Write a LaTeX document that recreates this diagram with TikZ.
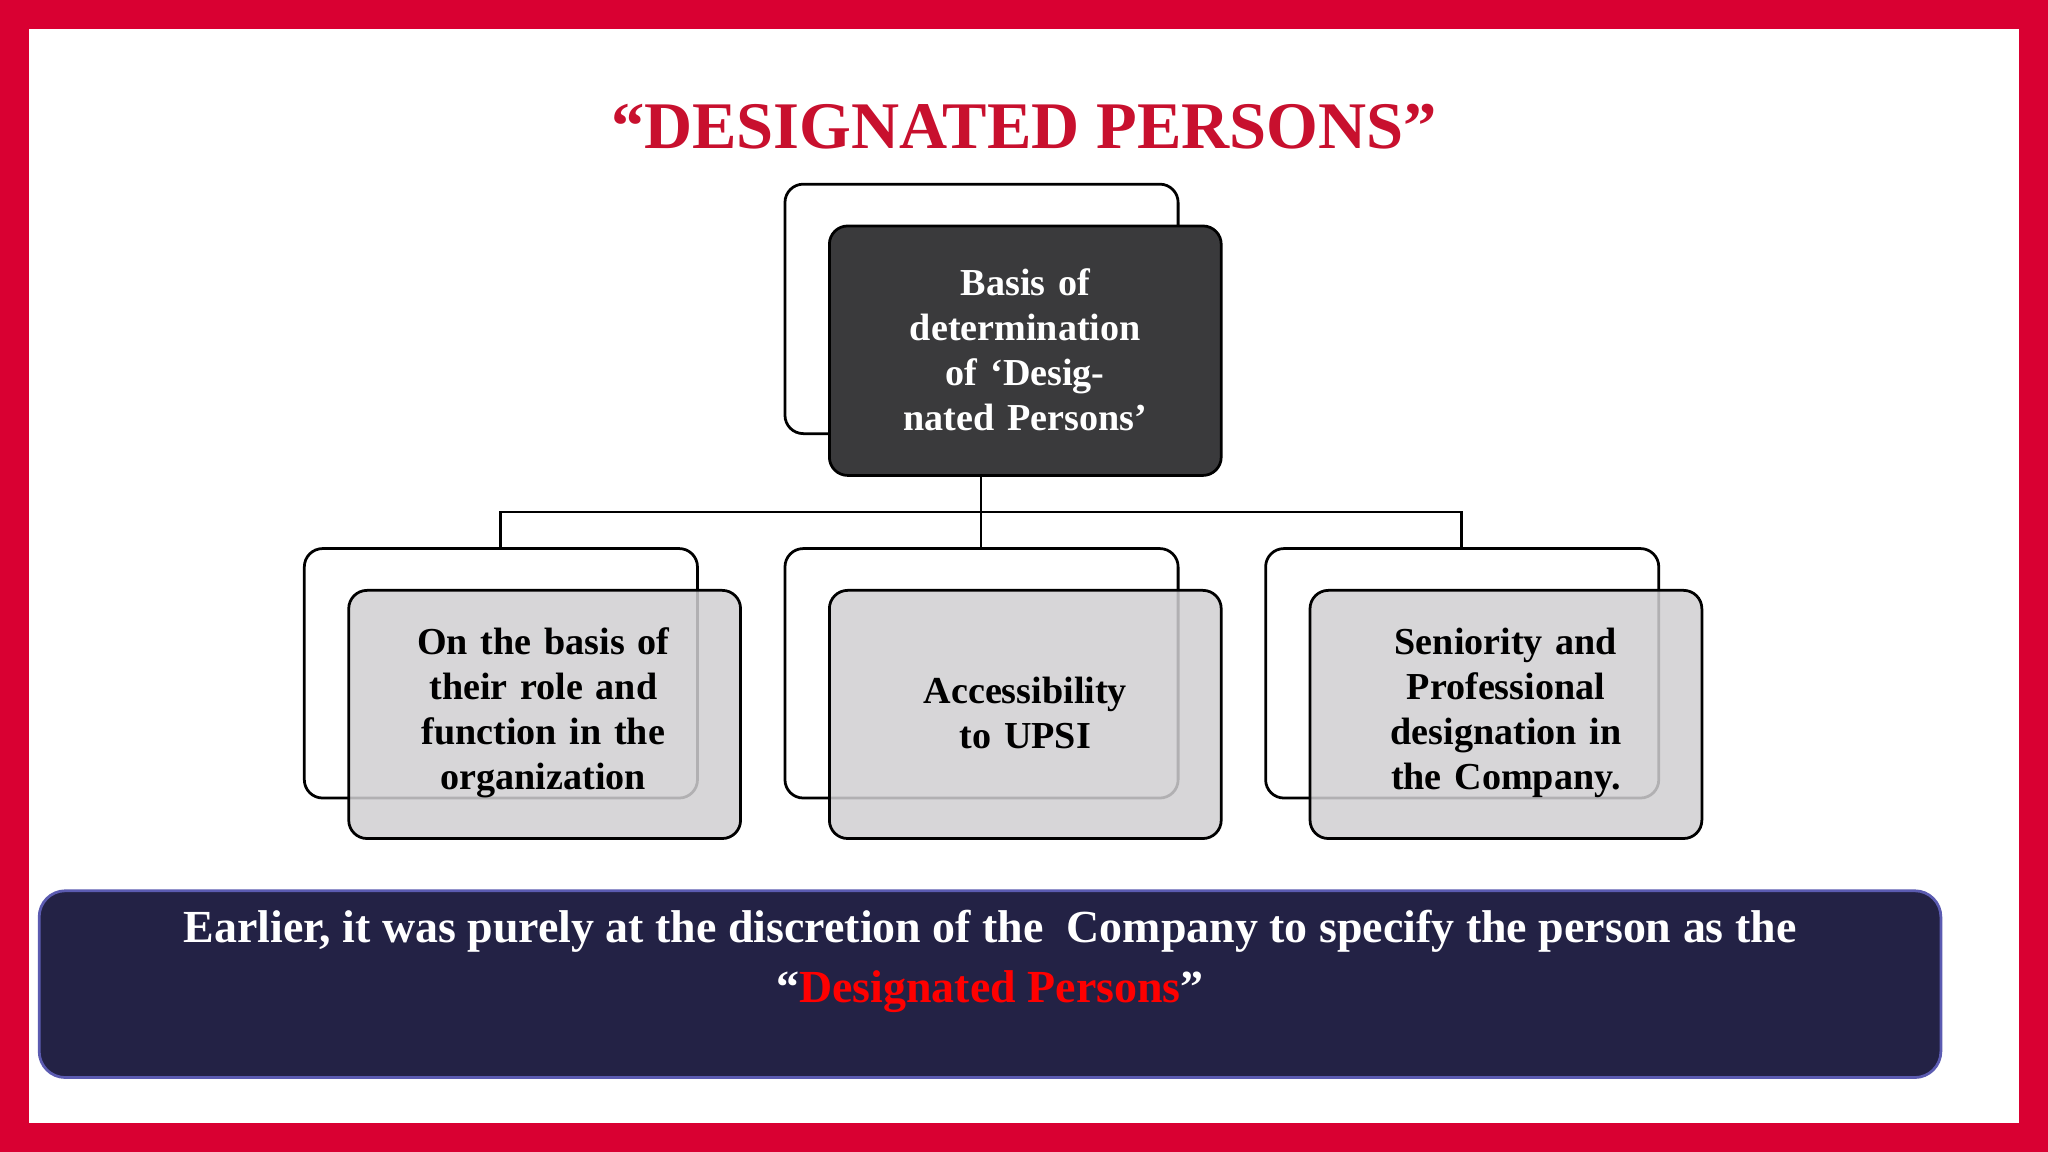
\documentclass[tikz,border=0pt]{standalone}
\usepackage{fontspec}
\setmainfont{Liberation Serif}
\definecolor{bred}{HTML}{D90032}
\definecolor{dark}{HTML}{3A3A3C}
\definecolor{lgray}{HTML}{D0CFD2}
\definecolor{navy}{HTML}{232245}
\definecolor{tred}{HTML}{C8102E}
\begin{document}
\begin{tikzpicture}[x=0.01cm,y=-0.01cm,
 back/.style={draw=black,line width=0.6pt,rounded corners=0.14cm,fill=white},
 front/.style={draw=black,line width=0.6pt,rounded corners=0.14cm,fill=lgray,fill opacity=0.85,text opacity=1},
 lbl/.style={align=center,font=\bfseries\fontsize{8.3}{9.8}\selectfont,text width=2.3cm},
 conn/.style={line width=0.6pt}]
\fill[bred] (0,0) rectangle (1568,882);
\fill[white] (22,22) rectangle (1546,860);
\useasboundingbox (0,0) rectangle (1568,882);
\node[text=tred,font=\bfseries\fontsize{14.5}{17}\selectfont] (title) at (784,97) {“DESIGNATED PERSONS”};
% top
\draw[back] (601,141) rectangle (902,332);
\draw[front,fill=dark,fill opacity=1] (635,173) rectangle (935,364);
\node[lbl,text=white] (top) at (785,268) {Basis of\\ determination of ‘Designated Persons’};
\coordinate (tb) at (751,364);
\coordinate (j) at (751,392);
\coordinate (jl) at (383,392);
\coordinate (jr) at (1119,392);
\coordinate (l) at (383,420);
\coordinate (m) at (751,420);
\coordinate (r) at (1119,420);
\draw[conn] (tb) -- (m);
\draw[conn] (l) -- (jl) -- (jr) -- (r);
% bottom boxes
\foreach \dx in {0,368,736}{
 \draw[back] (233+\dx,420) rectangle (534+\dx,611);
 \draw[front] (267+\dx,452) rectangle (567+\dx,642);
}
\node[lbl] (b1) at (416,546) {On the basis of\\ their role and function in the organization};
\node[lbl] (b2) at (785,546) {Accessibility to UPSI};
\node[lbl,text width=2.6cm] (b3) at (1153,546) {Seniority and Professional designation in the Company.};
% banner
\draw[fill=navy,draw=navy!60!blue!70!white,line width=0.6pt,rounded corners=0.2cm] (30,682) rectangle (1486,825);
\node[text=white,align=center,font=\bfseries\fontsize{10}{13}\selectfont] (ban) at (758,736)
 {Earlier, it was purely at the discretion of the \ Company to specify the person as the\\“\textcolor{red}{Designated Persons}”};
\end{tikzpicture}
\end{document}
